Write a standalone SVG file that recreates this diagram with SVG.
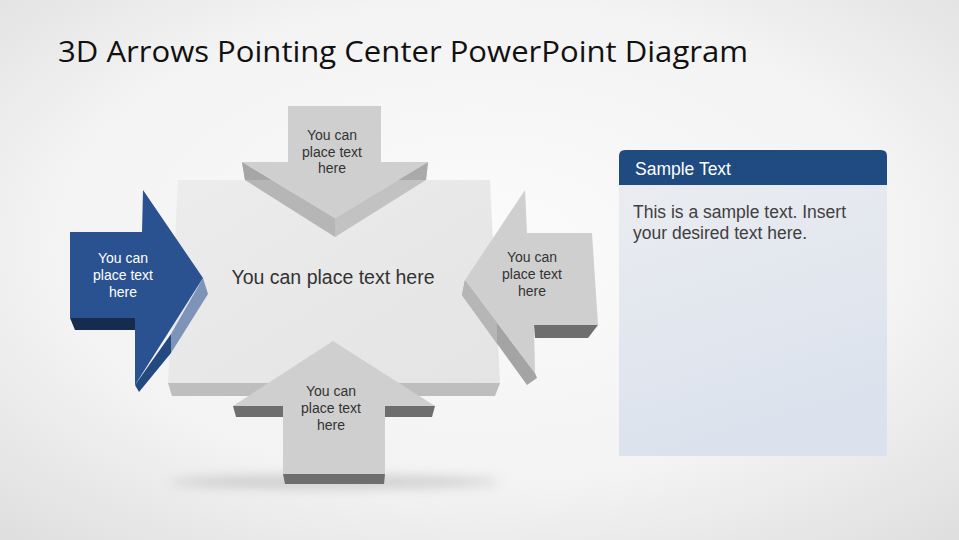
<svg xmlns="http://www.w3.org/2000/svg" width="959" height="540" viewBox="0 0 959 540">
  <defs>
    <radialGradient id="bg" cx="50%" cy="45%" r="75%">
      <stop offset="0" stop-color="#fbfbfb"/>
      <stop offset="0.6" stop-color="#f3f3f3"/>
      <stop offset="1" stop-color="#dedede"/>
    </radialGradient>
    <linearGradient id="sq" x1="0" y1="0" x2="1" y2="1">
      <stop offset="0" stop-color="#ececec"/>
      <stop offset="1" stop-color="#e4e4e4"/>
    </linearGradient>
    <linearGradient id="panelBody" x1="0" y1="0" x2="0.3" y2="1">
      <stop offset="0" stop-color="#eaecf0"/>
      <stop offset="1" stop-color="#dbe2ed"/>
    </linearGradient>
    <filter id="blur" x="-20%" y="-200%" width="140%" height="500%">
      <feGaussianBlur stdDeviation="6"/>
    </filter>
    <style>
      .lbl { font-family: "Liberation Sans", Arial, sans-serif; font-size: 14px; text-anchor: middle; }
      .dk { fill: #333333; }
      .wh { fill: #ffffff; }
      .gtop { fill: #cfcfcf; }
      .gdark { fill: #6e6e6e; }
      .ptxt { font-family: "Liberation Sans", Arial, sans-serif; font-size: 17.5px; }
    </style>
  </defs>

  <rect width="959" height="540" fill="url(#bg)"/>

  <g id="title">
    <text x="58" y="62" font-family="'Open Sans', 'Noto Sans', sans-serif" font-size="29" fill="#111111" textLength="690" lengthAdjust="spacingAndGlyphs">3D Arrows Pointing Center PowerPoint Diagram</text>
  </g>

  <!-- shadow -->
  <ellipse cx="335" cy="482" rx="165" ry="6" fill="#9a9a9a" opacity="0.45" filter="url(#blur)"/>

  <g id="center">
    <polygon points="168,383 500,383 495,396 172,396" fill="#bebebe"/>
    <polygon points="178,180 490,180 500,383 168,383" fill="url(#sq)"/>
    <text x="333" y="284" font-family="'Liberation Sans', Arial, sans-serif" font-size="19.5" fill="#333333" text-anchor="middle">You can place text here</text>
  </g>

  <g id="arrow-top">
    <polygon points="242,162 335,218 335,237 245,180" fill="#b6b6b6"/>
    <polygon points="242,162 245,180 272,180" fill="#a6a6a6"/>
    <polygon points="428,162 335,218 335,237 426,180" fill="#c2c2c2"/>
    <polygon points="428,162 426,180 398,180" fill="#aaaaaa"/>
    <polygon class="gtop" points="288,106 381,106 381,162 428,162 335,218 242,162 288,162"/>
    <text class="lbl dk" x="332" y="140">You can</text>
    <text class="lbl dk" x="332" y="157">place text</text>
    <text class="lbl dk" x="332" y="173">here</text>
  </g>

  <g id="arrow-left">
    <polygon points="70,318 135,318 135,330 75,330" fill="#152c4e"/>
    <polygon points="171,334 171,353 139,392 135,385" fill="#24497f"/>
    <polygon points="203,278 208,294 171,353 171,334" fill="#7d93b8"/>
    <polygon points="70,232 142,232 143,190 203,278 135,385 135,318 70,318" fill="#2a5290"/>
    <text class="lbl wh" x="123" y="263">You can</text>
    <text class="lbl wh" x="123" y="280">place text</text>
    <text class="lbl wh" x="123" y="297">here</text>
  </g>

  <g id="arrow-right">
    <polygon points="534,325 598,325 588,338 535,338" fill="#6e6e6e"/>
    <polygon points="465,280 535,373 537,378 527,385 462,295" fill="#a4a4a4"/>
    <polygon points="465,280 462,295 497,343.5 497,322.5" fill="#b6b6b6"/>
    <polygon class="gtop" points="525,190 527,233 592,233 598,325 534,325 535,373 465,280"/>
    <text class="lbl dk" x="532" y="262">You can</text>
    <text class="lbl dk" x="532" y="279">place text</text>
    <text class="lbl dk" x="532" y="296">here</text>
  </g>

  <g id="arrow-bottom">
    <polygon class="gdark" points="233,406 283,406 283,417 236,417"/>
    <polygon class="gdark" points="385,406 435,406 432,417 385,417"/>
    <polygon class="gdark" points="283,474 385,474 384,484 285,484"/>
    <polygon class="gtop" points="333,341 435,406 385,406 385,474 283,474 283,406 233,406"/>
    <text class="lbl dk" x="331" y="396">You can</text>
    <text class="lbl dk" x="331" y="413">place text</text>
    <text class="lbl dk" x="331" y="430">here</text>
  </g>

  <g id="panel">
    <rect x="619" y="185" width="268" height="271" fill="url(#panelBody)"/>
    <path d="M619,185 V156 Q619,150 625,150 H881 Q887,150 887,156 V185 Z" fill="#1f4b80"/>
    <text class="ptxt" x="635" y="175" fill="#ffffff">Sample Text</text>
    <text class="ptxt" x="633" y="218" fill="#404040">This is a sample text. Insert</text>
    <text class="ptxt" x="633" y="239" fill="#404040">your desired text here.</text>
  </g>
</svg>
